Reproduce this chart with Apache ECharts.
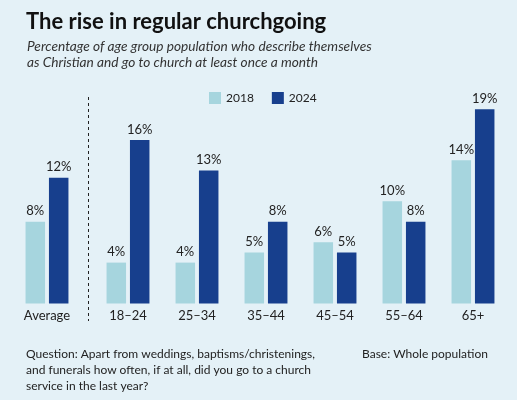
<!DOCTYPE html>
<html>
<head>
<meta charset="utf-8">
<script src="https://cdn.jsdelivr.net/npm/echarts@6/dist/echarts.min.js"></script>
<style>
  html, body { margin: 0; padding: 0; background: #e4f1f7; }
  #chart { width: 517px; height: 400px; }
</style>
</head>
<body>
<div id="chart"></div>
<script>
const avgCategory = ['Average'];
const ageGroups = ['18\u201324', '25\u201334', '35\u201344', '45\u201354', '55\u201364', '65+'];
const avg2018 = [8];
const avg2024 = [12.3];
const ages2018 = [4, 4, 5, 6, 10, 14];
const ages2024 = [16, 13, 8, 5, 8, 19];

const LIGHT = '#a6d5de';
const DARK = '#173f8d';
const FONT = 'Lato, "Noto Sans", sans-serif';

(function () {
    let myChart = echarts.init(document.getElementById('chart'));

    let barLabel = {
        show: true,
        position: 'top',
        distance: 4,
        color: '#222',
        fontSize: 13,
        fontFamily: FONT,
        formatter: p => Math.round(p.value) + '%'
    };
    let catAxis = (gridIndex, data) => ({
        type: 'category',
        gridIndex: gridIndex,
        data: data,
        axisLine: { show: false },
        axisTick: { show: false },
        axisLabel: { color: '#222', fontSize: 13, fontFamily: FONT, margin: 6 }
    });
    let valAxis = gridIndex => ({
        type: 'value',
        gridIndex: gridIndex,
        min: 0,
        max: 20,
        show: false,
        splitLine: { show: false }
    });
    let bars = (name, color, xi, data) => ({
        name: name,
        type: 'bar',
        xAxisIndex: xi,
        yAxisIndex: xi,
        data: data,
        barWidth: 19.5,
        barGap: '20%',
        itemStyle: { color: color },
        label: barLabel
    });

    let option = {
        backgroundColor: '#e4f1f7',
        animation: false,
        title: [
            {
                text: 'The rise in regular churchgoing',
                left: 21,
                top: 6,
                textStyle: { fontSize: 22, fontWeight: 'bold', color: '#111', fontFamily: FONT }
            },
            {
                text: 'Percentage of age group population who describe themselves\nas Christian and go to church at least once a month',
                left: 22,
                top: 34,
                textStyle: { fontSize: 13.7, fontStyle: 'italic', fontWeight: 'normal', color: '#333', lineHeight: 16, fontFamily: FONT }
            },
            {
                text: 'Question: Apart from weddings, baptisms/christenings,\nand funerals how often, if at all, did you go to a church\nservice in the last year?',
                left: 21,
                top: 341,
                textStyle: { fontSize: 12, fontWeight: 'normal', color: '#222', lineHeight: 16, fontFamily: FONT }
            },
            {
                text: 'Base: Whole population',
                left: 357,
                top: 341,
                textStyle: { fontSize: 12, fontWeight: 'normal', color: '#222', lineHeight: 16, fontFamily: FONT }
            }
        ],
        legend: {
            data: ['2018', '2024'],
            left: 204,
            top: 87,
            itemWidth: 12,
            itemHeight: 12,
            itemGap: 18,
            icon: 'rect',
            textStyle: { color: '#222', fontSize: 12, fontFamily: FONT }
        },
        grid: [
            { left: 12.5, width: 69, top: 99, bottom: 96.5 },
            { left: 93.5, width: 414, top: 99, bottom: 96.5 }
        ],
        xAxis: [catAxis(0, avgCategory), catAxis(1, ageGroups)],
        yAxis: [valAxis(0), valAxis(1)],
        series: [
            bars('2018', LIGHT, 0, avg2018),
            bars('2024', DARK, 0, avg2024),
            bars('2018', LIGHT, 1, ages2018),
            bars('2024', DARK, 1, ages2024)
        ],
        graphic: [
            {
                type: 'line',
                shape: { x1: 88.5, y1: 97, x2: 88.5, y2: 321 },
                style: { stroke: '#222', lineWidth: 1, lineDash: [3, 3] }
            }
        ]
    };
    myChart.setOption(option);
})();
</script>
</body>
</html>
